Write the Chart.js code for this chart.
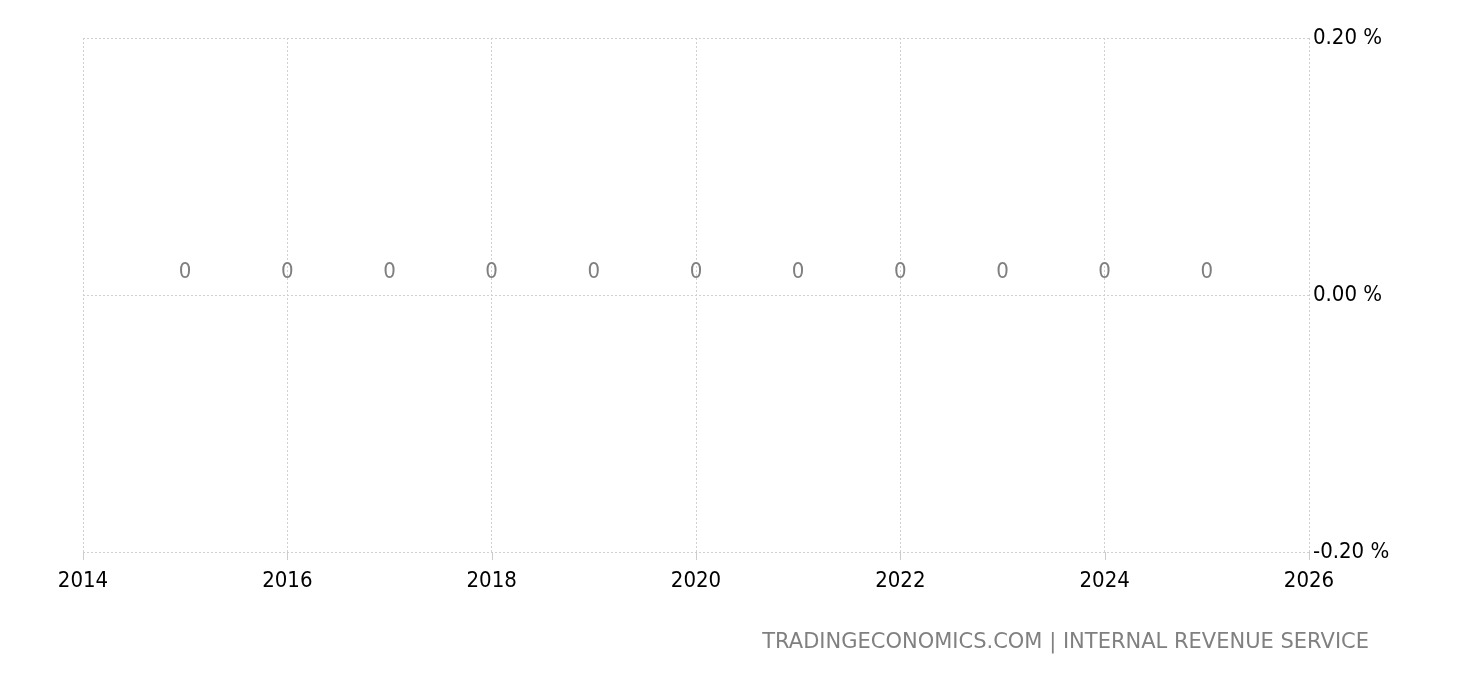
<!DOCTYPE html>
<html>
<head>
<meta charset="utf-8">
<script src="https://cdn.jsdelivr.net/npm/chart.js@4"></script>
<style>
  html, body { margin: 0; padding: 0; background: #ffffff; }
  #wrap { width: 1460px; height: 680px; position: relative; }
</style>
</head>
<body>
<div id="wrap"><canvas id="c" width="1460" height="680"></canvas></div>
<script>
const years = [2015, 2016, 2017, 2018, 2019, 2020, 2021, 2022, 2023, 2024, 2025];
const values = [0, 0, 0, 0, 0, 0, 0, 0, 0, 0, 0];
const xTicks = [2014, 2016, 2018, 2020, 2022, 2024, 2026];
const yTicks = [-0.2, 0, 0.2];
const sourceText = 'TRADINGECONOMICS.COM | INTERNAL REVENUE SERVICE';

const FONT = "'DejaVu Sans Condensed', 'DejaVu Sans', sans-serif";
const FOOT_FONT = "'DejaVu Sans', sans-serif";
const points = years.map((y, i) => ({ x: y, y: values[i] }));

const valueLabels = {
  id: 'valueLabels',
  afterDatasetsDraw(chart) {
    const ctx = chart.ctx;
    const xs = chart.scales.x, ys = chart.scales.y;
    ctx.save();
    ctx.font = '22px ' + FONT;
    ctx.fillStyle = '#7f7f7f';
    ctx.textAlign = 'center';
    ctx.textBaseline = 'middle';
    points.forEach(p => {
      ctx.fillText(String(p.y), xs.getPixelForValue(p.x), ys.getPixelForValue(p.y) - 23);
    });
    ctx.restore();
  },
  afterDraw(chart) {
    const ctx = chart.ctx;
    const xs = chart.scales.x, ys = chart.scales.y;
    ctx.save();
    ctx.strokeStyle = '#cccccc';
    ctx.lineWidth = 1;
    xTicks.forEach(t => {
      const px = Math.round(xs.getPixelForValue(t)) + 0.5;
      ctx.beginPath();
      ctx.moveTo(px, ys.bottom);
      ctx.lineTo(px, ys.bottom + 8);
      ctx.stroke();
    });
    ctx.font = '21px ' + FOOT_FONT;
    ctx.fillStyle = '#808080';
    ctx.textAlign = 'right';
    ctx.textBaseline = 'middle';
    ctx.fillText(sourceText, 1369, 643);
    ctx.restore();
  }
};

new Chart(document.getElementById('c'), {
  type: 'line',
  data: {
    datasets: [{
      data: points,
      borderColor: 'rgba(0,0,0,0)',
      backgroundColor: 'rgba(0,0,0,0)',
      borderWidth: 0,
      pointRadius: 0,
      pointHoverRadius: 0
    }]
  },
  options: {
    responsive: false,
    animation: false,
    events: [],
    layout: { padding: { left: 83, top: 38, right: 0, bottom: 0 } },
    plugins: { legend: { display: false }, tooltip: { enabled: false } },
    scales: {
      x: {
        type: 'linear',
        min: 2014,
        max: 2026,
        afterBuildTicks(scale) { scale.ticks = xTicks.map(v => ({ value: v })); },
        afterFit(scale) { scale.height = 128; },
        ticks: {
          callback: v => String(v),
          color: '#000000',
          font: { family: FONT, size: 22 },
          padding: 8,
          maxRotation: 0,
          autoSkip: false
        },
        grid: { color: '#d0d0d0', lineWidth: 1, drawTicks: true, tickLength: 8, tickColor: 'rgba(0,0,0,0)' },
        border: { display: false, dash: [2, 2] }
      },
      y: {
        position: 'right',
        min: -0.2,
        max: 0.2,
        afterBuildTicks(scale) { scale.ticks = yTicks.map(v => ({ value: v })); },
        afterFit(scale) { scale.width = 151; },
        ticks: {
          callback: v => v.toFixed(2) + ' %',
          color: '#000000',
          font: { family: FONT, size: 22 },
          padding: 4
        },
        grid: { color: '#d0d0d0', lineWidth: 1, drawTicks: false },
        border: { display: false, dash: [2, 2] }
      }
    }
  },
  plugins: [valueLabels]
});
</script>
</body>
</html>
